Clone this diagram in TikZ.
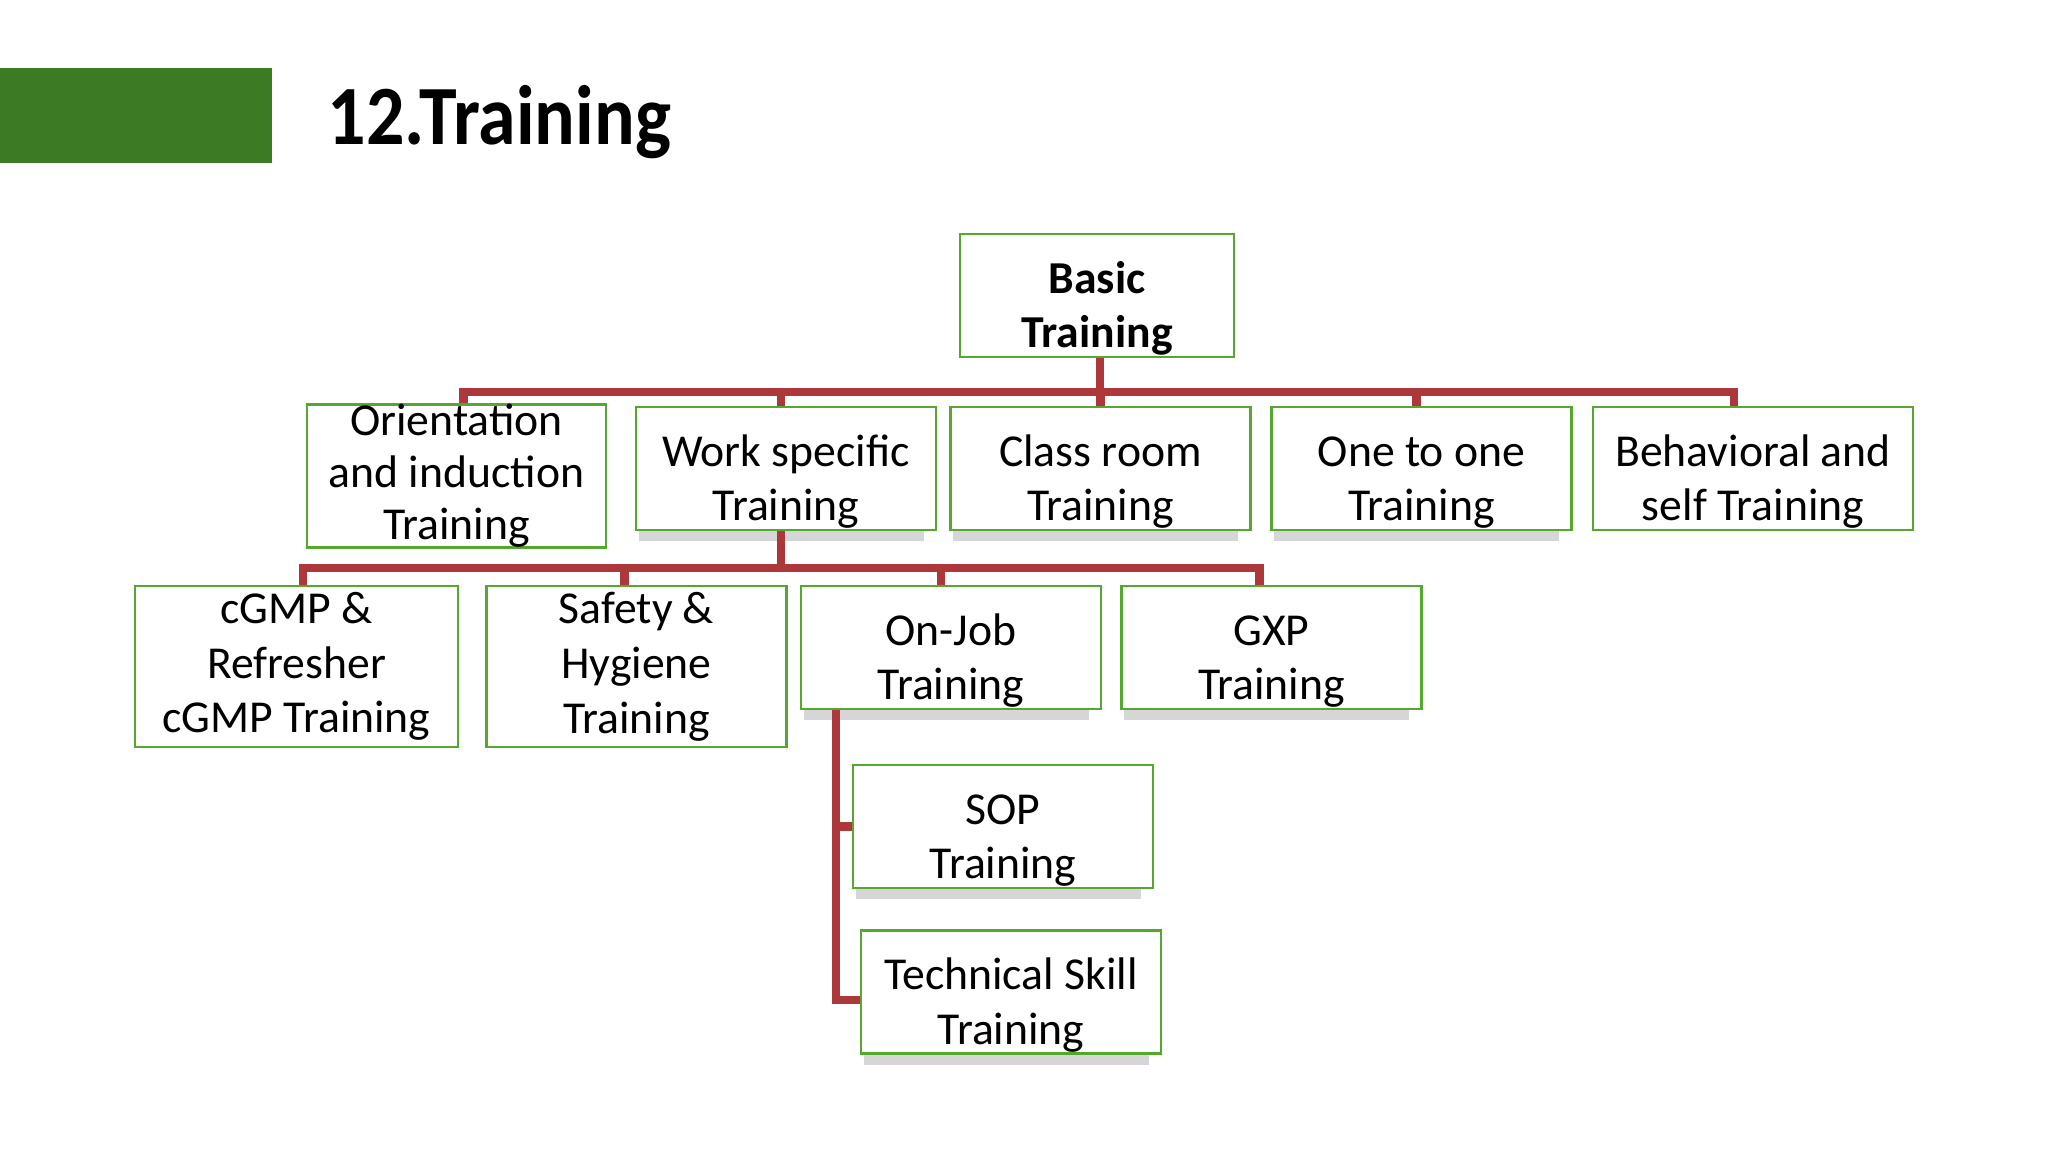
\documentclass[tikz,border=0pt]{standalone}
\usepackage{fontspec}
\setmainfont{Carlito}
\usepackage{xcolor}
\usepackage{tikz}
\usetikzlibrary{calc,shadows}
\definecolor{GreenBar}{RGB}{61,122,36}
\definecolor{GreenFrame}{RGB}{84,168,48}
\definecolor{RedLink}{RGB}{172,56,60}

\begin{document}
\begin{tikzpicture}[
  box/.style={draw=GreenFrame,line width=0.8pt,fill=white,align=center,
    minimum width=3cm,minimum height=1.23cm,inner sep=1pt,
    font=\fontsize{13}{15.6}\selectfont},
  twoline/.style={text width=2.9cm,align=flush center,text height=13.2pt,text depth=14.6pt},
  shade/.style={drop shadow={shadow xshift=-0.05cm,shadow yshift=-0.15cm,
    shadow scale=0.95,fill=black!40,opacity=0.4}},
  link/.style={RedLink,line width=2.4pt}
]
  \useasboundingbox (0,0) rectangle (20.48,11.52);
  \fill[GreenBar] (0,9.89) rectangle (2.72,10.84);
  \node[anchor=base west,inner sep=0pt,font=\bfseries\fontsize{24}{28}\selectfont] (title) at (3.27,10.07) {\scalebox{0.9}[1]{12.Training}};

  \node[box,twoline,text width=2.6cm,minimum width=2.74cm,font=\bfseries\fontsize{13}{15.6}\selectfont] (basic) at (10.97,8.565) {Basic\\Training};
  \node[box,minimum width=2.99cm,minimum height=1.38cm,inner sep=0pt,font=\fontsize{13}{14.8}\selectfont] (orient) at (4.565,6.76) {Orientation\\and induction\\Training};
  \node[box,twoline,shade] (work) at (7.86,6.835) {Work specific\\Training};
  \node[box,twoline,shade] (class) at (11.005,6.835) {Class room\\Training};
  \node[box,twoline,shade] (one) at (14.215,6.835) {One to one\\Training};
  \node[box,twoline,minimum width=3.2cm] (behav) at (17.53,6.835) {Behavioral and\\self Training};

  \node[box,minimum width=3.23cm,minimum height=1.61cm] (cgmp) at (2.965,4.855) {cGMP \&\\Refresher\\cGMP Training};
  \node[box,minimum height=1.61cm] (safety) at (6.365,4.855) {Safety \&\\Hygiene\\Training};
  \node[box,twoline,shade] (onjob) at (9.51,5.045) {On-Job\\Training};
  \node[box,twoline,shade] (gxp) at (12.715,5.045) {GXP\\Training};

  \node[box,twoline,shade] (sop) at (10.03,3.255) {SOP\\Training};
  \node[box,twoline,shade] (tech) at (10.11,1.60) {Technical Skill\\Training};

  \coordinate (bus1) at (0,7.60);
  \coordinate (bus2) at (0,5.84);
  \coordinate (trunk) at (8.36,0);
  \coordinate (top1) at ([xshift=0.03cm]basic.south);
  \coordinate (top2) at ([xshift=-0.05cm]work.south);
  \foreach \n/\dx in {orient/0.07,work/-0.05,class/0,one/-0.05,behav/-0.19}
    \draw[link] (top1) -- (top1 |- bus1) -| ([xshift=\dx cm]\n.north);
  \foreach \n/\dx in {cgmp/0.065,safety/-0.12,onjob/-0.1,gxp/-0.12}
    \draw[link] (top2) -- (top2 |- bus2) -| ([xshift=\dx cm]\n.north);
  \draw[link] (onjob.south -| trunk) |- (sop.west);
  \draw[link] (onjob.south -| trunk) |- ([yshift=-0.08cm]tech.west);
\end{tikzpicture}
\end{document}
